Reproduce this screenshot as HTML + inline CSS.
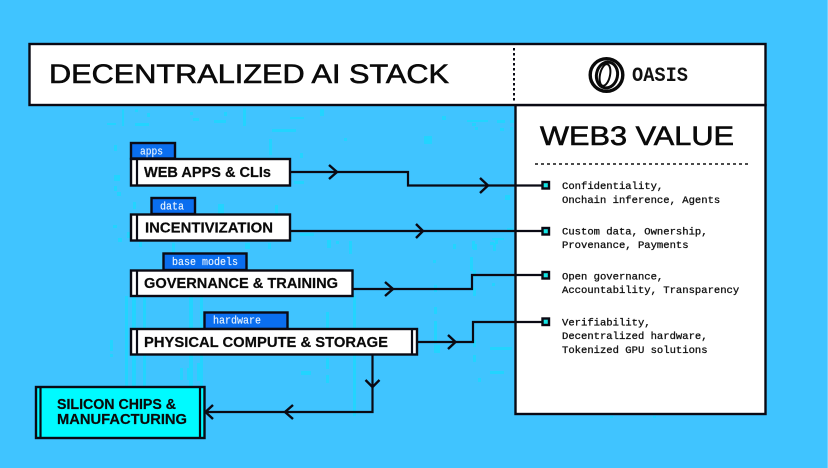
<!DOCTYPE html>
<html>
<head>
<meta charset="utf-8">
<style>
html,body{margin:0;padding:0;background:#40c4ff;width:828px;height:468px;overflow:hidden}
svg{display:block}
.m{font-family:"Liberation Mono",monospace;font-size:10.55px;fill:#111;stroke:#111;stroke-width:.3}
.t{font-family:"Liberation Mono",monospace;font-size:10.8px;fill:#e8f4ff;stroke:#e8f4ff;stroke-width:.15}
.b{font-family:"Liberation Sans",sans-serif;font-weight:bold;font-size:14.5px;fill:#0a0a0a;stroke:#0a0a0a;stroke-width:.2}
.h{font-family:"Liberation Sans",sans-serif;font-size:26.5px;fill:#0a0a0a;stroke:#0a0a0a;stroke-width:.6}
.l{fill:none;stroke:#0a0a14;stroke-width:2.2}
.box{fill:#fff;stroke:#0a0a14;stroke-width:2.4}
.tab{fill:#0a6eef;stroke:#0a0a14;stroke-width:2.4}
</style>
</head>
<body>
<svg width="828" height="468" viewBox="0 0 828 468" xmlns="http://www.w3.org/2000/svg">
<rect width="828" height="468" fill="#40c4ff"/>
<g fill="#22d4ff">
<rect x="107" y="123" width="9" height="2"/><rect x="122" y="109" width="2" height="17"/><rect x="135" y="123" width="14" height="3"/><rect x="147" y="113" width="3" height="4"/><rect x="135" y="109" width="3" height="3"/>
<rect x="190" y="112" width="3" height="3"/><rect x="193" y="118" width="6" height="3"/><rect x="214" y="120" width="12" height="3"/><rect x="224" y="112" width="3" height="4"/><rect x="243" y="108" width="3" height="18"/>
<rect x="290" y="117" width="14" height="2"/><rect x="272" y="129" width="24" height="3"/><rect x="320" y="109" width="4" height="7"/><rect x="269" y="139" width="3" height="16"/><rect x="344" y="138" width="3" height="3"/>
<rect x="114" y="145" width="3" height="6"/><rect x="114" y="175" width="6" height="6"/><rect x="114" y="186" width="3" height="5"/><rect x="117" y="192" width="4" height="4"/>
<rect x="133" y="202" width="3" height="7"/><rect x="218" y="204" width="6" height="10"/><rect x="275" y="205" width="3" height="9"/><rect x="294" y="181" width="10" height="3"/><rect x="300" y="153" width="3" height="5"/>
<rect x="467" y="120" width="21" height="2"/><rect x="472" y="123" width="4" height="3"/><rect x="475" y="127" width="3" height="3"/><rect x="497" y="120" width="8" height="3"/><rect x="500" y="128" width="4" height="3"/><rect x="510" y="120" width="4" height="3"/><rect x="510" y="127" width="3" height="3"/>
<rect x="424" y="136" width="8" height="8"/><rect x="442" y="116" width="4" height="4"/><rect x="505" y="195" width="5" height="5"/>
<rect x="300" y="233" width="14" height="3"/><rect x="327" y="240" width="4" height="8"/><rect x="349" y="241" width="3" height="13"/><rect x="336" y="241" width="3" height="3"/>
<rect x="453" y="244" width="3" height="5"/><rect x="473" y="244" width="4" height="6"/><rect x="495" y="238" width="3" height="6"/><rect x="490" y="242" width="4" height="3"/>
<rect x="472" y="241" width="3" height="8"/><rect x="493" y="243" width="3" height="8"/><rect x="492" y="238" width="12" height="2"/><rect x="507" y="228" width="6" height="3"/>
<rect x="127" y="232" width="3" height="6"/><rect x="113" y="225" width="4" height="3"/><rect x="118" y="238" width="4" height="4"/><rect x="139" y="242" width="3" height="5"/><rect x="172" y="243" width="3" height="12"/><rect x="245" y="243" width="5" height="6"/><rect x="268" y="243" width="3" height="6"/>
<rect x="125" y="296" width="3" height="90"/><rect x="132" y="296" width="4" height="90"/><rect x="143" y="296" width="3" height="90"/><rect x="189" y="296" width="4" height="90"/><rect x="200" y="296" width="3" height="90"/>
<rect x="353" y="296" width="3" height="120"/><rect x="326" y="312" width="3" height="17"/><rect x="326" y="358" width="3" height="11"/><rect x="326" y="375" width="3" height="8"/><rect x="301" y="371" width="10" height="4"/>
<rect x="110" y="340" width="3" height="11"/><rect x="110" y="354" width="3" height="3"/><rect x="180" y="368" width="3" height="12"/><rect x="187" y="368" width="5" height="12"/><rect x="197" y="363" width="5" height="18"/>
<rect x="434" y="285" width="3" height="7"/><rect x="434" y="307" width="3" height="7"/><rect x="434" y="321" width="3" height="23"/><rect x="434" y="345" width="6" height="8"/><rect x="473" y="288" width="3" height="8"/><rect x="473" y="340" width="3" height="7"/><rect x="473" y="355" width="3" height="7"/><rect x="478" y="378" width="3" height="4"/><rect x="490" y="347" width="22" height="3"/><rect x="490" y="371" width="14" height="3"/><rect x="492" y="283" width="3" height="3"/><rect x="470" y="257" width="3" height="14"/><rect x="473" y="270" width="3" height="7"/><rect x="433" y="260" width="3" height="3"/>
<rect x="610" y="416" width="3" height="2"/><rect x="653" y="416" width="3" height="2"/>
</g>
<rect x="827" y="0" width="1" height="468" fill="#6fd3ff"/>

<rect x="515.500" y="105" width="250" height="309" class="box"/>
<rect x="29.500" y="44" width="736" height="61" class="box"/>
<line x1="514" y1="48" x2="514" y2="103" stroke="#0a0a14" stroke-width="2" stroke-dasharray="2.500 2.500"/>

<text x="49" y="83" class="h" textLength="400" lengthAdjust="spacingAndGlyphs">DECENTRALIZED AI STACK</text>
<text x="540" y="145" class="h" textLength="194" lengthAdjust="spacingAndGlyphs">WEB3 VALUE</text>

<g fill="none" stroke="#0a0a0a">
<circle cx="606.500" cy="75" r="16.300" stroke-width="3.400"/>
<ellipse cx="607" cy="75" rx="10.500" ry="13" stroke-width="3" transform="rotate(12 607 75)"/>
<ellipse cx="605" cy="75" rx="5" ry="11" stroke-width="2" transform="rotate(12 605 75)"/>
</g>
<text x="632" y="81" font-family="'Liberation Mono',monospace" font-weight="bold" font-size="20" fill="#111" textLength="56" lengthAdjust="spacingAndGlyphs">OASIS</text>

<line x1="535" y1="164" x2="750" y2="164" stroke="#111" stroke-width="1.500" stroke-dasharray="3 3"/>

<polyline class="l" points="291,172 408,172 408,185.500 546,185.500"/>
<line class="l" x1="291" y1="231" x2="546" y2="231"/>
<polyline class="l" points="353,289 472,289 472,275 546,275"/>
<polyline class="l" points="417,342 473,342 473,322 546,322"/>
<polyline class="l" points="372.500,355 372.500,412 205,412"/>

<g class="l" style="stroke-width:2.400">
<polyline points="329,165 337,172 329,179"/>
<polyline points="480,178 488,185.500 480,193"/>
<polyline points="416,224 423,231 416,238"/>
<polyline points="385,282 393,289 385,296"/>
<polyline points="448,335 455.500,342 448,349"/>
<polyline points="365.500,380 372.500,387 379.500,380"/>
<polyline points="293,405 285,412 293,419"/>
<polyline points="213,405 205.500,412 213,419"/>
</g>

<g fill="#16e6e6" stroke="#0a0a14" stroke-width="2.400">
<rect x="542.500" y="182" width="6.500" height="6.500"/>
<rect x="542.500" y="228" width="6.500" height="6.500"/>
<rect x="542.500" y="272" width="6.500" height="6.500"/>
<rect x="542.500" y="318.500" width="6.500" height="6.500"/>
</g>

<text class="m"><tspan x="562" y="189">Confidentiality,</tspan><tspan x="562" y="203">Onchain inference, Agents</tspan></text>
<text class="m"><tspan x="562" y="234.500">Custom data, Ownership,</tspan><tspan x="562" y="248">Provenance, Payments</tspan></text>
<text class="m"><tspan x="562" y="279.500">Open governance,</tspan><tspan x="562" y="293">Accountability, Transparency</tspan></text>
<text class="m"><tspan x="562" y="325.500">Verifiability,</tspan><tspan x="562" y="339">Decentralized hardware,</tspan><tspan x="562" y="353">Tokenized GPU solutions</tspan></text>

<rect x="131" y="143" width="44" height="15.500" class="tab"/>
<text x="140" y="154.500" class="t" textLength="23" lengthAdjust="spacingAndGlyphs">apps</text>
<rect x="151.500" y="198" width="43.500" height="16" class="tab"/>
<text x="160" y="209.500" class="t" textLength="24" lengthAdjust="spacingAndGlyphs">data</text>
<rect x="163.500" y="253.500" width="83" height="16.500" class="tab"/>
<text x="172" y="265" class="t" textLength="66" lengthAdjust="spacingAndGlyphs">base models</text>
<rect x="204.500" y="312.500" width="83" height="16.500" class="tab"/>
<text x="213" y="323.500" class="t" textLength="48" lengthAdjust="spacingAndGlyphs">hardware</text>

<rect x="131" y="159" width="159" height="26.500" class="box"/>
<line class="l" x1="137" y1="159" x2="137" y2="185.500"/>
<text x="144" y="177" class="b" textLength="127" lengthAdjust="spacingAndGlyphs">WEB APPS &amp; CLIs</text>

<rect x="131" y="214.500" width="159" height="26" class="box"/>
<line class="l" x1="137" y1="214.500" x2="137" y2="240.500"/>
<text x="145" y="232.500" class="b" textLength="128" lengthAdjust="spacingAndGlyphs">INCENTIVIZATION</text>

<rect x="131" y="270.500" width="221.500" height="25.500" class="box"/>
<line class="l" x1="137" y1="270.500" x2="137" y2="296"/>
<text x="144" y="288" class="b" textLength="194" lengthAdjust="spacingAndGlyphs">GOVERNANCE &amp; TRAINING</text>

<rect x="131" y="329" width="286" height="25.500" class="box"/>
<line class="l" x1="137" y1="329" x2="137" y2="354.500"/>
<line class="l" x1="412" y1="329" x2="412" y2="354.500"/>
<text x="144" y="347" class="b" textLength="244" lengthAdjust="spacingAndGlyphs">PHYSICAL COMPUTE &amp; STORAGE</text>

<rect x="36" y="387" width="168.500" height="51" fill="#00faff" stroke="#0a0a14" stroke-width="2.400"/>
<line class="l" x1="40.500" y1="387" x2="40.500" y2="438"/>
<line class="l" x1="200" y1="387" x2="200" y2="438"/>
<text x="57" y="409" class="b" textLength="119" lengthAdjust="spacingAndGlyphs">SILICON CHIPS &amp;</text>
<text x="57" y="424" class="b" textLength="130" lengthAdjust="spacingAndGlyphs">MANUFACTURING</text>
</svg>
</body>
</html>
